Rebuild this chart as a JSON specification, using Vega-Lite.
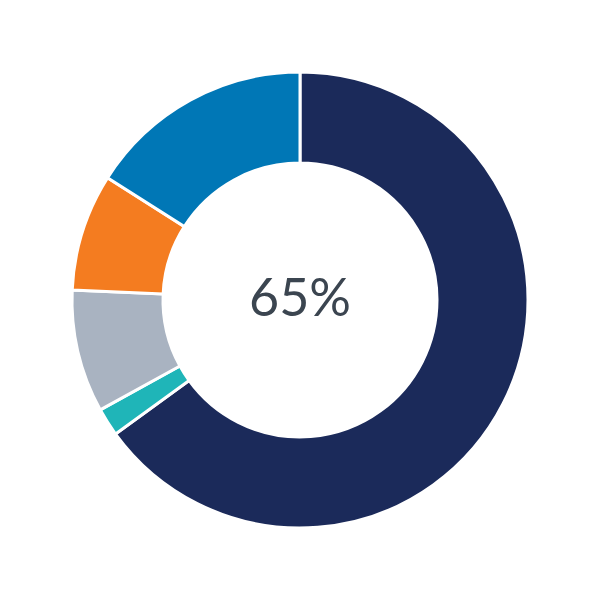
{
  "$schema": "https://vega.github.io/schema/vega-lite/v6.json",
  "width": 600,
  "height": 600,
  "autosize": {"type": "fit", "contains": "padding"},
  "padding": 0,
  "data": {
    "values": [
      {"segment": "A", "share": 65, "rank": 1},
      {"segment": "B", "share": 2, "rank": 2},
      {"segment": "C", "share": 8.7, "rank": 3},
      {"segment": "D", "share": 8.3, "rank": 4},
      {"segment": "E", "share": 16, "rank": 5}
    ]
  },
  "layer": [
    {
      "mark": {"type": "arc", "outerRadius": 228, "innerRadius": 137, "stroke": "white", "strokeWidth": 3},
      "encoding": {
        "theta": {"field": "share", "type": "quantitative", "stack": true},
        "order": {"field": "rank", "type": "quantitative"},
        "color": {
          "field": "segment",
          "type": "nominal",
          "legend": null,
          "scale": {
            "domain": ["A", "B", "C", "D", "E"],
            "range": ["#1b2a5a", "#1fb5b8", "#a9b3c1", "#f47c20", "#0077b6"]
          }
        }
      }
    },
    {
      "data": {"values": [{"label": "65%"}]},
      "mark": {"type": "text", "fontSize": 52, "font": "Lato", "fontWeight": "normal", "color": "#3b4550", "baseline": "middle", "align": "center"},
      "encoding": {
        "text": {"field": "label", "type": "nominal"}
      }
    }
  ],
  "config": {"view": {"stroke": null}}
}
